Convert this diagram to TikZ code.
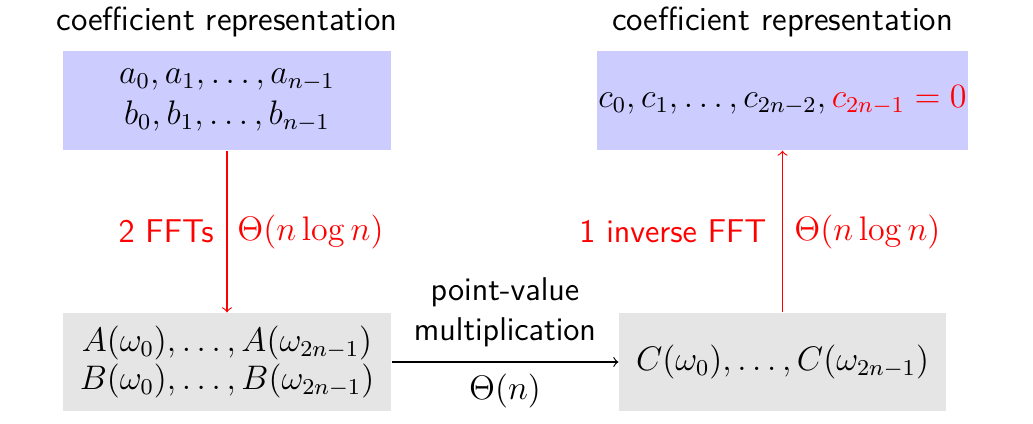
\documentclass[tikz,border=0pt]{standalone}
\begin{document}
\begin{tikzpicture}[x=0.012391cm,y=-0.012391cm,
  every node/.style={font=\fontsize{11.6}{13.4}\selectfont\sffamily},
  coef/.style={fill=blue!20, minimum width=4.064cm, minimum height=1.227cm, inner sep=0pt, align=center},
  pval/.style={fill=gray!20, minimum width=4.052cm, minimum height=1.214cm, inner sep=0pt, align=center},
  ttl/.style={inner sep=0pt, font=\fontsize{11.8}{13.4}\selectfont\sffamily},
  lbl/.style={text=red, inner sep=0pt},
  conn/.style={->, >=to},
]
\useasboundingbox (0,0) rectangle (1033,424);
\node[coef] (A) at (227,100.5) {$a_0,a_1,\ldots,a_{n-1}$\\[1pt]$b_0,b_1,\ldots,b_{n-1}$};
\node[coef, minimum width=4.597cm] (C) at (782.5,100.5) {$c_0,c_1,\ldots,c_{2n-2},\textcolor{red}{c_{2n-1}=0}$};
\node[pval, minimum width=4.064cm] (PA) at (227,362) {$A(\omega_0),\ldots,A(\omega_{2n-1})$\\$B(\omega_0),\ldots,B(\omega_{2n-1})$};
\node[pval] (PC) at (782.5,362) {$C(\omega_0),\ldots,C(\omega_{2n-1})$};
\node[ttl] (t1) at (227,22) {coefficient representation};
\node[ttl] (t2) at (782.5,22) {coefficient representation};
\draw[conn, red] (A) -- (PA) node[midway, left=4.5pt, lbl] (l1) {2 FFTs} node[midway, right=3.5pt, lbl] (r1) {$\Theta(n\log n)$};
\draw[conn, red] (PC) -- (C) node[midway, left=5.5pt, lbl] (l2) {1 inverse FFT} node[midway, right=4pt, lbl] (r2) {$\Theta(n\log n)$};
\draw[conn] (PA) -- (PC) node[midway, above=5pt, align=center, inner sep=0pt] (m1) {point-value\\[1pt]multiplication} node[midway, below=4pt, inner sep=0pt] (m2) {$\Theta(n)$};
\end{tikzpicture}
\end{document}
